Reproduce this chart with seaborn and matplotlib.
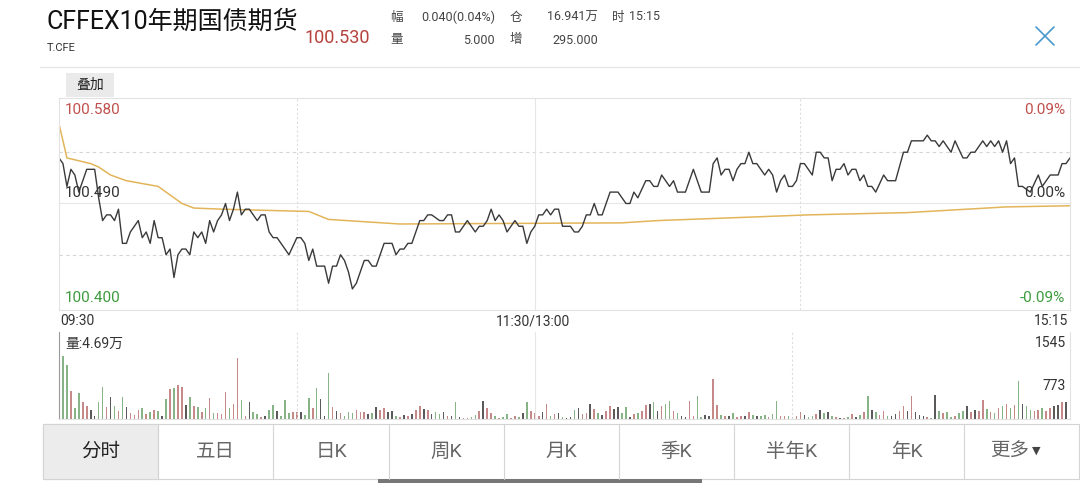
import numpy as np
import pandas as pd
import seaborn as sns
import matplotlib.pyplot as plt
from matplotlib.patches import Rectangle, FancyBboxPatch
from matplotlib.lines import Line2D


# Data (minute since 09:30 in trading minutes, price)
PRICE_PTS = [
    (0, 100.53), (1, 100.525), (2, 100.505), (3, 100.52), (4, 100.515),
    (5, 100.50), (6, 100.51), (7, 100.52), (9, 100.52), (10, 100.495),
    (11, 100.475), (12, 100.48), (13, 100.48), (14, 100.475), (15, 100.485),
    (16, 100.455), (17, 100.455), (18, 100.465), (20, 100.475), (21, 100.46),
    (22, 100.465), (23, 100.455), (24, 100.475), (25, 100.46), (26, 100.46),
    (27, 100.445), (28, 100.45), (29, 100.425), (30, 100.445), (31, 100.45),
    (32, 100.45), (33, 100.445), (34, 100.465), (35, 100.46), (36, 100.465),
    (37, 100.455), (38, 100.475), (39, 100.465), (40, 100.475), (41, 100.48),
    (42, 100.49), (43, 100.475), (44, 100.485), (45, 100.50), (46, 100.48),
    (47, 100.485), (48, 100.485), (49, 100.48), (50, 100.475), (51, 100.48),
    (52, 100.48), (53, 100.465), (54, 100.46), (55, 100.46), (58, 100.445),
    (60, 100.46), (61, 100.46), (62, 100.455), (63, 100.44), (64, 100.45),
    (65, 100.435), (67, 100.435), (68, 100.42), (69, 100.435), (70, 100.435),
    (71, 100.445), (72, 100.44), (73, 100.43), (74, 100.415), (75, 100.42),
    (77, 100.44), (78, 100.44), (79, 100.435), (80, 100.435), (82, 100.455),
    (83, 100.455), (84, 100.455), (85, 100.445), (86, 100.45), (87, 100.45),
    (88, 100.455), (89, 100.455), (91, 100.475), (92, 100.475), (93, 100.48),
    (94, 100.48), (96, 100.475), (97, 100.475), (98, 100.48), (99, 100.48),
    (100, 100.465), (101, 100.465), (103, 100.475), (105, 100.465),
    (106, 100.47), (107, 100.47), (108, 100.475), (109, 100.485),
    (110, 100.475), (111, 100.48), (112, 100.475), (113, 100.465),
    (115, 100.475), (116, 100.47), (117, 100.47), (118, 100.455),
    (119, 100.465), (120, 100.47), (121, 100.48), (122, 100.48),
    (123, 100.485), (124, 100.48), (125, 100.485), (126, 100.485),
    (127, 100.47), (129, 100.47), (130, 100.465), (131, 100.465),
    (132, 100.47), (133, 100.48), (134, 100.48), (135, 100.49), (136, 100.48),
    (137, 100.48), (139, 100.50), (141, 100.50), (143, 100.49), (144, 100.49),
    (145, 100.50), (146, 100.495), (148, 100.51), (149, 100.51),
    (150, 100.505), (151, 100.505), (152, 100.515), (154, 100.505),
    (155, 100.51), (156, 100.50), (158, 100.50), (160, 100.52), (162, 100.50),
    (164, 100.50), (165, 100.525), (166, 100.53), (167, 100.515),
    (168, 100.52), (169, 100.52), (170, 100.51), (171, 100.52),
    (172, 100.525), (173, 100.525), (174, 100.535), (175, 100.525),
    (176, 100.525), (178, 100.515), (179, 100.52), (180, 100.515),
    (181, 100.50), (182, 100.51), (183, 100.515), (184, 100.505),
    (185, 100.505), (186, 100.51), (187, 100.525), (188, 100.525),
    (190, 100.515), (191, 100.535), (192, 100.535), (193, 100.53),
    (194, 100.53), (195, 100.51), (196, 100.52), (197, 100.52),
    (198, 100.525), (199, 100.515), (200, 100.52), (201, 100.52),
    (202, 100.51), (203, 100.515), (204, 100.505), (205, 100.505),
    (206, 100.50), (208, 100.515), (209, 100.51), (211, 100.51),
    (213, 100.535), (214, 100.535), (215, 100.545), (218, 100.545),
    (219, 100.55), (220, 100.545), (221, 100.545), (222, 100.54),
    (223, 100.545), (225, 100.535), (226, 100.545), (228, 100.53),
    (229, 100.53), (230, 100.535), (231, 100.535), (233, 100.545),
    (234, 100.54), (235, 100.545), (236, 100.54), (237, 100.545),
    (238, 100.535), (239, 100.545), (240, 100.525), (241, 100.53),
    (242, 100.505), (243, 100.505), (245, 100.50), (247, 100.515),
    (248, 100.505), (250, 100.515), (252, 100.515), (253, 100.525),
    (254, 100.525), (255, 100.53),
]
AVG_PTS = [
    (0, 100.56), (2, 100.53), (8, 100.525), (10, 100.522), (13, 100.515),
    (17, 100.51), (25, 100.505), (27, 100.50), (31, 100.49), (34, 100.486),
    (41, 100.485), (63, 100.483), (68, 100.476), (86, 100.472),
    (142, 100.473), (151, 100.475), (174, 100.478), (189, 100.48),
    (214, 100.482), (239, 100.487), (255, 100.488),
]
VOLUME = [
    1193, 1017, 534, 200, 490, 314, 251, 176, 63, 314, 597, 220, 408, 239, 157,
    408, 220, 113, 75, 176, 200, 94, 138, 176, 157, 50, 377, 565, 578, 641,
    597, 270, 408, 239, 220, 138, 200, 389, 113, 113, 94, 515, 200, 283, 1143,
    364, 63, 314, 138, 94, 31, 50, 176, 264, 157, 63, 364, 113, 138, 126,
    138, 75, 389,
    200, 578, 377, 63, 867, 220, 157, 113, 63, 126, 113, 176, 126, 138, 94,
    113, 220, 176, 200, 126, 157, 63, 31, 75, 50, 94, 176, 251, 188, 176,
    94, 126, 94, 138, 63, 50, 327, 31, 13, 25, 31, 75, 157, 345, 200,
    113, 63, 25, 31, 94, 25, 50, 31, 113, 327, 157, 113, 63, 138, 283,
    63, 94, 113,
    31, 13, 31, 176, 200, 94, 113, 283, 188, 113, 75, 157, 239, 188, 220,
    113, 220, 31, 94, 113, 157, 264, 283, 327, 157, 239, 283, 345, 157, 113,
    50, 31, 345, 63, 427, 31, 75, 63, 754, 264, 75, 50, 63, 113, 31,
    63, 50, 126, 75, 63, 50, 75, 31, 94, 345, 63, 50, 50, 31, 63, 126, 75,
    31, 63, 94, 176, 113, 138, 63, 31, 13, 25, 31, 94, 31, 75, 126,
    427, 176, 138, 75, 157, 63, 50, 94, 157, 239, 157, 440, 126, 75, 50,
    31, 13, 452, 157, 113, 138, 31, 50, 113, 157, 239, 126, 176, 157, 364,
    188, 138, 113, 200, 239, 283, 200, 264, 723, 283, 239, 176, 157, 176, 200,
    157, 200, 239, 264, 314, 327,
]
PREV_CLOSE = 100.49
TABS = ["分时", "五日", "日K", "周K", "月K", "季K", "半年K", "年K", "更多"]

RED = "#c0504d"
GREEN = "#3d9a3d"
VOL_COLORS = {"up": "#cf7f7f", "down": "#80bb80", "flat": "#5a5a5a"}

W, H = 1080, 486


def fx(x):
    return x / W


def fy(y):
    return 1 - y / H


price = pd.DataFrame(PRICE_PTS, columns=["minute", "price"])
avg = pd.DataFrame(AVG_PTS, columns=["minute", "price"])
vol = pd.DataFrame({"minute": np.arange(1, len(VOLUME) + 1), "volume": VOLUME})
now = np.interp(vol["minute"], price["minute"], price["price"])
before = np.interp(vol["minute"] - 1, price["minute"], price["price"])
diff = np.round(now - before, 6)
vol["dir"] = np.where(diff > 0, "up", np.where(diff < 0, "down", "flat"))

sns.set_theme(style="white")
plt.rcParams["font.family"] = ["Roboto", "Noto Sans CJK SC", "DejaVu Sans"]

fig = plt.figure(figsize=(10.8, 4.86), dpi=100)
fig.patch.set_facecolor("white")

# Price panel
ax = fig.add_axes([fx(59), fy(310), (1070 - 59) / W, (310 - 98) / H])
ax.axhline(100.535, color="#d5d5d5", ls=(0, (3, 3)), lw=0.8)
ax.axhline(100.445, color="#d5d5d5", ls=(0, (3, 3)), lw=0.8)
ax.axhline(PREV_CLOSE, color="#e6e6e6", lw=0.8)
ax.axvline(60, color="#dddddd", ls=(0, (2, 2)), lw=0.8)
ax.axvline(120, color="#e6e6e6", lw=0.8)
ax.axvline(187, color="#dddddd", ls=(0, (2, 2)), lw=0.8)
sns.lineplot(data=avg, x="minute", y="price", color="#e3b55a", lw=1.1,
             estimator=None, sort=False, ax=ax)
sns.lineplot(data=price, x="minute", y="price", color="#3a3a3a", lw=1.0,
             estimator=None, sort=False, ax=ax)
ax.set_xlim(0, 255)
ax.set_ylim(100.3965, 100.5826)
ax.set_xticks([])
ax.set_yticks([])
ax.set_xlabel("")
ax.set_ylabel("")
for s in ax.spines.values():
    s.set_color("#e2e2e2")
    s.set_linewidth(0.8)

# Volume panel
axv = fig.add_axes([fx(59), fy(419), (1070 - 59) / W, (419 - 332) / H])
axv.axvline(60, color="#dddddd", ls=(0, (2, 2)), lw=0.8)
axv.axvline(120, color="#e6e6e6", lw=0.8)
axv.axvline(185, color="#dddddd", ls=(0, (2, 2)), lw=0.8)
sns.barplot(data=vol, x="minute", y="volume", hue="dir", palette=VOL_COLORS,
            native_scale=True, dodge=False, width=0.4, linewidth=0,
            errorbar=None, legend=False, ax=axv)
axv.set_xlim(0, 255)
axv.set_ylim(0, 1639)
axv.set_xticks([])
axv.set_yticks([])
axv.set_xlabel("")
axv.set_ylabel("")
axv.spines["top"].set_visible(False)
axv.spines["left"].set_color("#9a9a9a")
axv.spines["right"].set_color("#e2e2e2")
axv.spines["bottom"].set_color("#e2e2e2")
for s in axv.spines.values():
    s.set_linewidth(0.8)

# Header
fig.text(fx(47), fy(22), "CFFEX10年期国债期货", fontsize=18, color="#111111",
         va="center")
fig.text(fx(47), fy(48), "T.CFE", fontsize=8, color="#333333", va="center")
fig.text(fx(305), fy(38), "100.530", fontsize=13, color="#b5423c", va="center")
hdr = dict(fontsize=9, color="#444444", va="center")
fig.text(fx(390), fy(17), "幅", **hdr)
fig.text(fx(495), fy(17), "0.040(0.04%)", ha="right", **hdr)
fig.text(fx(510), fy(17), "仓", **hdr)
fig.text(fx(598), fy(17), "16.941万", ha="right", **hdr)
fig.text(fx(612), fy(17), "时", **hdr)
fig.text(fx(660), fy(17), "15:15", ha="right", **hdr)
fig.text(fx(390), fy(40), "量", **hdr)
fig.text(fx(495), fy(40), "5.000", ha="right", **hdr)
fig.text(fx(510), fy(40), "增", **hdr)
fig.text(fx(598), fy(40), "295.000", ha="right", **hdr)
for (x0, y0, x1, y1) in [(1036, 27, 1054, 45), (1036, 45, 1054, 27)]:
    fig.add_artist(Line2D([fx(x0), fx(x1)], [fy(y0), fy(y1)], color="#4a98cc",
                          lw=1.2, transform=fig.transFigure))
fig.add_artist(Line2D([fx(40), fx(1080)], [fy(67), fy(67)], color="#e6e6e6",
                      lw=1.0, transform=fig.transFigure))
fig.add_artist(Rectangle((fx(66), fy(97)), 48 / W, 24 / H, fc="#eaeaea",
                         ec="none", transform=fig.transFigure))
fig.text(fx(90), fy(85), "叠加", fontsize=10, color="#222222", ha="center",
         va="center")

# Axis labels inside panels
fig.text(fx(65), fy(110), "100.580", fontsize=11, color=RED, va="center")
fig.text(fx(65), fy(193), "100.490", fontsize=11, color="#333333", va="center")
fig.text(fx(65), fy(298), "100.400", fontsize=11, color=GREEN, va="center")
fig.text(fx(1065), fy(110), "0.09%", fontsize=11, color=RED, ha="right",
         va="center")
fig.text(fx(1065), fy(193), "0.00%", fontsize=11, color="#333333", ha="right",
         va="center")
fig.text(fx(1065), fy(298), "-0.09%", fontsize=11, color=GREEN, ha="right",
         va="center")
fig.text(fx(60), fy(321), "09:30", fontsize=10, color="#333333", va="center")
fig.text(fx(533), fy(321), "11:30/13:00", fontsize=10, color="#333333",
         ha="center", va="center")
fig.text(fx(1068), fy(321), "15:15", fontsize=10, color="#333333", ha="right",
         va="center")
fig.text(fx(65), fy(344), "量:4.69万", fontsize=10, color="#333333", va="center")
fig.text(fx(1066), fy(343), "1545", fontsize=10, color="#333333", ha="right",
         va="center")
fig.text(fx(1066), fy(386), "773", fontsize=10, color="#333333", ha="right",
         va="center")

# Bottom tabs
fig.add_artist(Rectangle((fx(43), fy(479)), (1079 - 43) / W, 55 / H,
                         fc="white", ec="#d4d4d4", lw=0.8,
                         transform=fig.transFigure))
fig.add_artist(Rectangle((fx(43), fy(479)), 115 / W, 55 / H, fc="#ececec",
                         ec="#d4d4d4", lw=0.8, transform=fig.transFigure))
edges = [43, 158, 273, 389, 504, 619, 734, 849, 964, 1079]
for i, name in enumerate(TABS):
    if i > 0:
        fig.add_artist(Line2D([fx(edges[i])] * 2, [fy(424), fy(479)],
                              color="#d4d4d4", lw=0.8,
                              transform=fig.transFigure))
    cx = (edges[i] + edges[i + 1]) / 2
    if name == "更多":
        fig.text(fx(cx + 8), fy(452), name, fontsize=14, color="#666666",
                 ha="right", va="center")
        fig.text(fx(cx + 10), fy(451), "▼", fontsize=8, color="#444444",
                 ha="left", va="center", family=["DejaVu Sans"])
    else:
        fig.text(fx(cx), fy(452), name, fontsize=14,
                 color="#222222" if i == 0 else "#666666", ha="center",
                 va="center")
fig.add_artist(FancyBboxPatch((fx(378), fy(483)), 324 / W, 4 / H,
                              boxstyle="round,pad=0", fc="#777777", ec="none",
                              transform=fig.transFigure))

fig.savefig("out.png", dpi=100, facecolor="white")
